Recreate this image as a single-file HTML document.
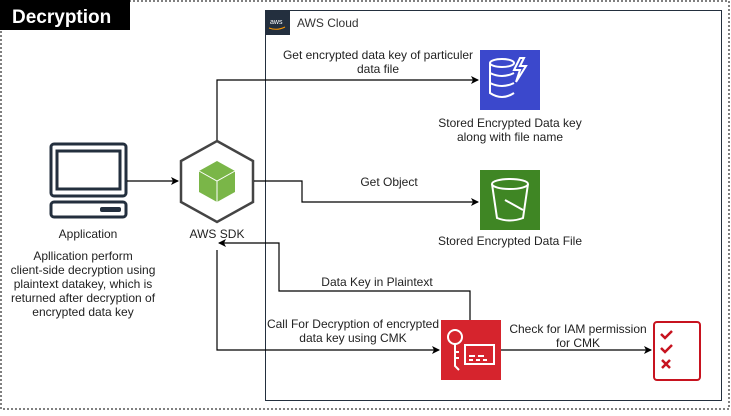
<!DOCTYPE html>
<html><head><style>
body{margin:0;width:731px;height:411px;overflow:hidden;background:#fff;font-family:"Liberation Sans",sans-serif}
svg text{font-family:"Liberation Sans",sans-serif;font-size:12px;fill:#222}
</style></head><body>
<svg width="731" height="411" viewBox="0 0 731 411" xmlns="http://www.w3.org/2000/svg">
<defs><marker id="a" markerWidth="8" markerHeight="8" refX="7" refY="4" orient="auto" markerUnits="userSpaceOnUse"><path d="M0,0 L8,4 L0,8 L2,4z" fill="#000"/></marker></defs>
<rect x="1" y="1" width="728" height="408" fill="none" stroke="#000" stroke-dasharray="2,2"/>
<rect x="0" y="0" width="130" height="30" fill="#000"/>
<text x="12" y="23" style="font-size:19px;font-weight:bold;fill:#fff">Decryption</text>
<rect x="265.5" y="10.5" width="456" height="390" fill="none" stroke="#232f3e"/>
<rect x="265" y="10" width="25" height="25" fill="#232f3e"/>
<text x="270" y="24" style="font-size:7px;fill:#fff">aws</text>
<path d="M269,28 q8,3 16,-1" stroke="#f90" fill="none" stroke-width="1"/>
<text x="297" y="27" style="font-size:12px;fill:#333">AWS Cloud</text>
<!-- laptop -->
<rect x="51" y="144" width="75" height="52" rx="3" fill="none" stroke="#232f3e" stroke-width="3"/>
<rect x="57" y="151" width="63" height="38" fill="none" stroke="#232f3e" stroke-width="3"/>
<rect x="51" y="202" width="75" height="15" rx="3" fill="none" stroke="#232f3e" stroke-width="3"/>
<rect x="100" y="207" width="21" height="5" rx="2" fill="#232f3e"/>
<text x="88" y="238" text-anchor="middle">Application</text>
<text x="83" y="260" text-anchor="middle">Apllication perform</text>
<text x="83" y="274" text-anchor="middle">client-side decryption using</text>
<text x="83" y="288" text-anchor="middle">plaintext datakey, which is</text>
<text x="83" y="302" text-anchor="middle">returned after decryption of</text>
<text x="83" y="316" text-anchor="middle">encrypted data key</text>
<!-- SDK -->
<path d="M217,141 L253,161 L253,202 L217,222 L181,202 L181,161z" fill="none" stroke="#444" stroke-width="2.5"/>
<path d="M217,161 L235,171 L235,192 L217,202 L199,192 L199,171z" fill="#7ab648"/>
<path d="M199,171 L217,181 L235,171 M217,181 L217,202" stroke="#fff" stroke-width="1" fill="none"/>
<text x="217" y="238" text-anchor="middle">AWS SDK</text>
<!-- dynamo -->
<rect x="480" y="50" width="60" height="60" fill="#3b48cc"/>
<g fill="none" stroke="#fff" stroke-width="2"><ellipse cx="502" cy="63" rx="12" ry="4"/><path d="M490,63 v30 q12,8 24,0 M490,73 q12,6 24,0 M490,83 q12,6 24,0"/><path d="M520,58 l-6,12 h6 l-4,12 l10,-16 h-6 l4,-8z"/></g>
<text x="510" y="127" text-anchor="middle">Stored Encrypted Data key</text>
<text x="510" y="141" text-anchor="middle">along with file name</text>
<!-- s3 -->
<rect x="480" y="170" width="60" height="60" fill="#3f8624"/>
<g fill="none" stroke="#fff" stroke-width="2"><ellipse cx="510" cy="184" rx="18" ry="5"/><path d="M492,184 l5,34 q13,5 26,0 l5,-34"/><path d="M505,200 l18,10"/></g>
<text x="510" y="245" text-anchor="middle">Stored Encrypted Data File</text>
<!-- kms -->
<rect x="441" y="320" width="60" height="60" fill="#d6242d"/>
<g fill="none" stroke="#fff" stroke-width="2"><circle cx="455" cy="337" r="7"/><path d="M455,344 v22 l4,4 M455,352 h4 M455,358 h4"/><rect x="465" y="345" width="29" height="19"/><path d="M469,356 h6 M478,356 h6 M469,360 h4 M476,360 h4 M483,360 h4"/></g>
<!-- checklist -->
<rect x="654" y="322" width="46" height="58" rx="3" fill="none" stroke="#c7131f" stroke-width="2"/>
<g fill="none" stroke="#c7131f" stroke-width="2.5"><path d="M661,334 l4,4 l7,-7 M661,348 l4,4 l7,-7 M662,360 l8,8 M670,360 l-8,8"/></g>
<!-- connectors -->
<g fill="none" stroke="#000" stroke-width="1.2">
<path d="M127,181 H178" marker-end="url(#a)"/>
<path d="M217,140 V80 H478" marker-end="url(#a)"/>
<path d="M254,181 H302 V202 H478" marker-end="url(#a)"/>
<path d="M470,320 V291 H279 V243 H219" marker-end="url(#a)"/>
<path d="M217,250 V350 H439" marker-end="url(#a)"/>
<path d="M501,350 H651" marker-end="url(#a)"/>
</g>
<text x="378" y="59" text-anchor="middle">Get encrypted data key of particuler</text>
<text x="378" y="73" text-anchor="middle">data file</text>
<text x="389" y="186" text-anchor="middle">Get Object</text>
<text x="377" y="286" text-anchor="middle">Data Key in Plaintext</text>
<text x="353" y="328" text-anchor="middle">Call For Decryption of encrypted</text>
<text x="353" y="342" text-anchor="middle">data key using CMK</text>
<text x="578" y="333" text-anchor="middle">Check for IAM permission</text>
<text x="578" y="347" text-anchor="middle">for CMK</text>
</svg>
</body></html>
